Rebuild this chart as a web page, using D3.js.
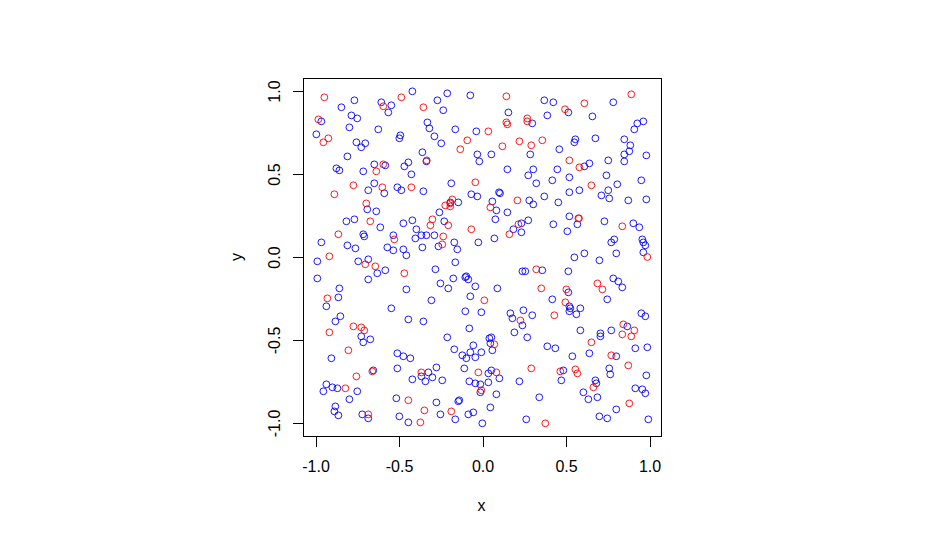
<!DOCTYPE html>
<html><head><meta charset="utf-8">
<script src="https://cdnjs.cloudflare.com/ajax/libs/d3/7.8.5/d3.min.js"></script>
<style>
html,body{margin:0;padding:0;background:#fff}
svg{display:block}
text{font-family:"Liberation Sans",Arial,sans-serif;fill:#000}
</style></head><body>
<svg id="c" width="926" height="535"></svg>
<script>
const tickValues=[-1,-0.5,0,0.5,1];
const tickLabels=["-1.0","-0.5","0.0","0.5","1.0"];
const xTitle="x", yTitle="y";
const redPoints=[[-0.947,0.962],[-0.594,0.908],[-0.486,0.962],[-0.354,0.902],[-0.983,0.829],[-0.923,0.715],[-0.953,0.691],[-0.091,0.703],[-0.133,0.649],[-0.334,0.582],[-0.594,0.558],[-0.636,0.516],[-0.043,0.450],[-0.773,0.432],[-0.600,0.420],[-0.426,0.420],[-0.887,0.378],[-0.696,0.323],[-0.181,0.347],[-0.193,0.323],[-0.223,0.311],[-0.193,0.305],[-0.300,0.227],[-0.672,0.215],[-0.312,0.191],[-0.205,0.191],[-0.067,0.167],[-0.863,0.137],[-0.235,0.124],[-0.528,0.106],[-0.241,0.076],[-0.917,0.004],
[-0.702,-0.044],[-0.642,-0.056],[-0.468,-0.098],[-0.929,-0.249],[0.011,-0.261],[-0.773,-0.418],[-0.726,-0.424],[-0.708,-0.442],[-0.917,-0.454],[-0.803,-0.562],[-0.660,-0.689],[-0.366,-0.695],[-0.755,-0.719],[-0.025,-0.695],[-0.821,-0.791],[-0.007,-0.803],[-0.444,-0.863],[-0.348,-0.924],[-0.187,-0.930],[-0.684,-0.948],[-0.372,-0.996],
[0.143,0.968],[0.891,0.980],[0.610,0.926],[0.494,0.890],[0.268,0.835],[0.268,0.817],[0.143,0.811],[0.149,0.799],[0.035,0.757],[0.221,0.697],[0.358,0.703],[0.292,0.673],[0.119,0.667],[0.520,0.582],[0.580,0.540],[0.652,0.432],[0.209,0.341],[0.047,0.299],[0.574,0.233],[0.578,0.233],[0.215,0.197],[0.837,0.185],[0.161,0.137],[0.987,0.000],
[0.322,-0.074],[0.352,-0.189],[0.502,-0.195],[0.688,-0.159],[0.718,-0.195],[0.496,-0.273],[0.430,-0.351],[0.227,-0.382],[0.843,-0.406],[0.909,-0.442],[0.837,-0.466],[0.891,-0.478],[0.071,-0.526],[0.652,-0.514],[0.771,-0.592],[0.873,-0.653],[0.292,-0.671],[0.083,-0.695],[0.466,-0.689],[0.556,-0.677],[0.568,-0.701],[0.664,-0.785],[0.879,-0.882],[0.376,-1.002]];
const bluePoints=[[-0.420,0.998],[-0.211,0.986],[-0.073,0.974],[-0.767,0.944],[-0.270,0.944],[-0.606,0.932],[-0.546,0.914],[-0.845,0.902],[-0.235,0.884],[-0.564,0.871],[-0.785,0.853],[-0.750,0.835],[-0.965,0.817],[-0.330,0.811],[-0.797,0.781],[-0.318,0.775],[-0.624,0.769],[-0.163,0.769],[-0.037,0.757],[-0.995,0.739],[-0.288,0.727],[-0.492,0.733],[-0.498,0.715],[-0.755,0.691],[-0.702,0.685],[-0.247,0.685],[-0.726,0.661],[-0.360,0.631],[-0.031,0.618],[-0.809,0.606],[-0.019,0.576],[-0.336,0.576],[-0.444,0.570],[-0.648,0.558],[-0.582,0.552],[-0.468,0.546],[-0.875,0.534],[-0.857,0.522],[-0.714,0.516],[-0.426,0.498],[-0.648,0.444],[-0.187,0.444],[-0.510,0.420],[-0.486,0.402],[-0.684,0.402],[-0.354,0.396],[-0.588,0.384],[-0.067,0.378],[-0.031,0.365],[-0.145,0.329],[-0.193,0.329],[-0.690,0.287],[-0.636,0.275],[-0.258,0.269],[-0.815,0.215],[-0.767,0.227],[-0.420,0.221],[-0.229,0.215],[-0.474,0.203],[-0.612,0.179],[-0.396,0.167],[-0.366,0.131],[-0.336,0.131],[-0.288,0.131],[-0.534,0.131],[-0.714,0.137],[-0.708,0.124],[-0.402,0.112],[-0.965,0.088],[-0.169,0.088],[-0.025,0.088],[-0.809,0.070],[-0.761,0.052],[-0.570,0.058],[-0.534,0.040],[-0.474,0.046],[-0.360,0.058],[-0.264,0.064],[-0.151,0.046],[-0.456,0.010],
[-0.989,-0.026],[-0.744,-0.026],[-0.684,-0.014],[-0.163,-0.032],[-0.282,-0.074],[-0.582,-0.080],[-0.630,-0.098],[-0.684,-0.135],[-0.989,-0.129],[-0.175,-0.129],[-0.097,-0.116],[-0.103,-0.122],[-0.085,-0.135],[-0.252,-0.159],[-0.043,-0.177],[-0.205,-0.189],[-0.857,-0.189],[-0.456,-0.195],[-0.073,-0.237],[-0.863,-0.243],[-0.306,-0.261],[-0.935,-0.297],[-0.546,-0.309],[-0.103,-0.327],[-0.007,-0.333],[-0.851,-0.357],[-0.881,-0.388],[-0.444,-0.376],[-0.354,-0.388],[-0.079,-0.430],[-0.726,-0.478],[-0.714,-0.514],[-0.672,-0.496],[-0.211,-0.484],[-0.055,-0.532],[-0.169,-0.556],[-0.510,-0.580],[-0.474,-0.598],[-0.432,-0.610],[-0.905,-0.610],[-0.121,-0.592],[-0.073,-0.574],[-0.007,-0.574],[-0.097,-0.610],[-0.043,-0.604],[-0.276,-0.665],[-0.510,-0.671],[-0.109,-0.671],[-0.654,-0.683],[-0.324,-0.695],[-0.366,-0.719],[-0.300,-0.725],[-0.420,-0.737],[-0.342,-0.749],[-0.241,-0.743],[-0.079,-0.749],[-0.043,-0.761],[-0.013,-0.767],[-0.935,-0.767],[-0.899,-0.785],[-0.869,-0.791],[-0.953,-0.809],[-0.750,-0.809],[-0.013,-0.815],[-0.797,-0.857],[-0.516,-0.851],[-0.276,-0.876],[-0.139,-0.863],[-0.145,-0.869],[-0.881,-0.900],[-0.887,-0.930],[-0.863,-0.954],[-0.720,-0.948],[-0.684,-0.972],[-0.252,-0.948],[-0.055,-0.936],[-0.085,-0.948],[-0.498,-0.960],[-0.163,-0.978],[-0.444,-0.996],[-0.001,-1.002],
[0.370,0.944],[0.424,0.932],[0.783,0.932],[0.155,0.871],[0.514,0.871],[0.388,0.853],[0.658,0.847],[0.963,0.817],[0.927,0.805],[0.298,0.805],[0.909,0.769],[0.676,0.715],[0.556,0.709],[0.550,0.691],[0.849,0.709],[0.885,0.673],[0.460,0.649],[0.879,0.637],[0.053,0.618],[0.286,0.618],[0.849,0.618],[0.981,0.612],[0.753,0.582],[0.849,0.576],[0.149,0.528],[0.304,0.528],[0.448,0.528],[0.640,0.564],[0.610,0.546],[0.274,0.492],[0.742,0.492],[0.520,0.480],[0.418,0.462],[0.951,0.462],[0.322,0.444],[0.807,0.438],[0.753,0.402],[0.580,0.402],[0.520,0.390],[0.712,0.371],[0.099,0.390],[0.105,0.384],[0.370,0.365],[0.759,0.353],[0.981,0.347],[0.873,0.341],[0.280,0.341],[0.059,0.335],[0.454,0.329],[0.304,0.317],[0.083,0.281],[0.149,0.269],[0.520,0.245],[0.077,0.227],[0.274,0.221],[0.233,0.203],[0.424,0.197],[0.568,0.197],[0.730,0.215],[0.903,0.203],[0.939,0.179],[0.185,0.167],[0.233,0.149],[0.508,0.155],[0.071,0.112],[0.789,0.106],[0.771,0.088],[0.957,0.106],[0.963,0.088],[0.975,0.070],[0.801,0.022],[0.963,0.028],[0.550,-0.002],[0.610,0.022],[0.700,-0.020],
[0.239,-0.086],[0.256,-0.086],[0.358,-0.080],[0.514,-0.086],[0.783,-0.129],[0.813,-0.147],[0.837,-0.183],[0.089,-0.189],[0.514,-0.213],[0.418,-0.255],[0.747,-0.255],[0.520,-0.297],[0.526,-0.309],[0.520,-0.327],[0.586,-0.309],[0.562,-0.345],[0.245,-0.321],[0.167,-0.339],[0.179,-0.369],[0.298,-0.351],[0.951,-0.339],[0.975,-0.357],[0.239,-0.412],[0.867,-0.418],[0.586,-0.442],[0.771,-0.442],[0.191,-0.454],[0.706,-0.460],[0.706,-0.478],[0.268,-0.484],[0.041,-0.490],[0.053,-0.484],[0.047,-0.520],[0.059,-0.562],[0.388,-0.538],[0.436,-0.550],[0.915,-0.550],[0.987,-0.544],[0.640,-0.580],[0.538,-0.598],[0.801,-0.598],[0.759,-0.671],[0.053,-0.683],[0.035,-0.701],[0.484,-0.683],[0.765,-0.707],[0.981,-0.713],[0.101,-0.731],[0.035,-0.755],[0.221,-0.749],[0.472,-0.743],[0.676,-0.743],[0.682,-0.761],[0.915,-0.791],[0.957,-0.797],[0.975,-0.821],[0.604,-0.815],[0.083,-0.827],[0.688,-0.845],[0.634,-0.857],[0.340,-0.845],[0.047,-0.906],[0.801,-0.918],[0.700,-0.960],[0.747,-0.972],[0.262,-0.978],[0.993,-0.978]];

const svg=d3.select("#c");
const x=d3.scaleLinear().domain([-1,1]).range([315.5,649.5]);
const y=d3.scaleLinear().domain([-1,1]).range([423,91]);
const fmt=v=>tickLabels[tickValues.indexOf(v)];

svg.append("rect").attr("x",303.5).attr("y",78.5).attr("width",358).attr("height",358)
  .attr("fill","none").attr("stroke","#000").attr("shape-rendering","crispEdges");

const ax=svg.append("g").attr("transform","translate(0,437)")
  .call(d3.axisBottom(x).tickValues(tickValues).tickFormat(fmt).tickSize(9.5));
const ay=svg.append("g").attr("transform","translate(303,0)")
  .call(d3.axisLeft(y).tickValues(tickValues).tickFormat(fmt).tickSize(10));
[ax,ay].forEach(g=>{
  g.select(".domain").remove();
  g.selectAll("line").attr("stroke","#000").attr("shape-rendering","crispEdges");
  g.selectAll("text").style("font-size","16px").attr("fill","#000");
});
ax.selectAll("text").attr("dy",0).attr("y",35);
ay.selectAll("text").attr("text-anchor","middle").attr("dy",0).attr("x",0).attr("y",0)
  .attr("transform","translate(-23,0) rotate(-90)");

svg.append("text").attr("x",481.5).attr("y",511).attr("text-anchor","middle").style("font-size","16px").text(xTitle);
svg.append("text").attr("transform","translate(242,257) rotate(-90)").attr("text-anchor","middle").style("font-size","16px").text(yTitle);

function draw(pts,col){
  svg.append("g").selectAll("circle").data(pts).join("circle")
    .attr("cx",d=>x(d[0])).attr("cy",d=>y(d[1])).attr("r",3.4)
    .attr("fill","none").attr("stroke",col).attr("stroke-width",0.9);
}
draw(bluePoints,"#0000ff");
draw(redPoints,"#ff0000");
</script></body></html>
